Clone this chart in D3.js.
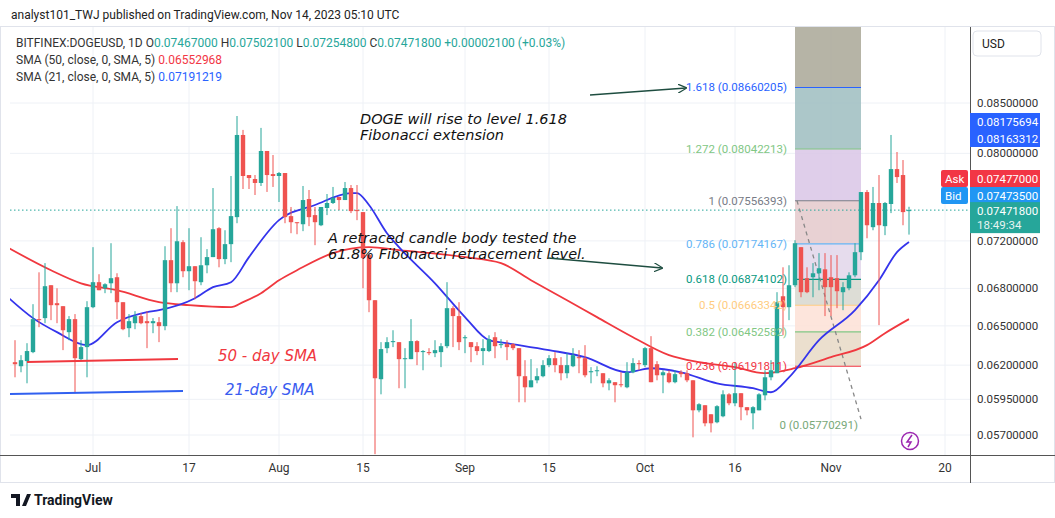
<!DOCTYPE html>
<html lang="en">
<head>
<meta charset="UTF-8">
<title>DOGEUSD 1D</title>
<style>
  body { margin: 0; background: #fff; font-family: 'Roboto', 'Liberation Sans', sans-serif; }
  svg text { font-family: 'Roboto', 'Liberation Sans', sans-serif; }
  .note { font-family: 'DejaVu Sans', sans-serif; font-style: italic; }
</style>
<script src="https://d3js.org/d3.v7.min.js"></script>
</head>
<body>
<svg id="chart" width="1055" height="518"></svg>
<script>
// daily candles from 2023-06-18
const startDay = "2023-06-18";
const opens = [.06222,.06192,.06230,.06298,.06553,.06561,.06826,.06680,.06656,.06451,.06553,.06245,.06336,.06648,.06851,.06801,.06842,.06892,.06688,.06482,
  .06521,.06577,.06537,.06521,.06529,.06498,.07035,.06842,.07189,.06942,.06984,.06851,.06992,.07061,.07311,.07044,.07172,.07409,.08179,.07794,
  .07757,.07720,.08023,.07803,.07785,.07813,.07418,.07364,.07346,.07572,.07427,.07337,.07491,.07536,.07591,.07563,.07673,.07472,.07454,.07078,
  .06704,.06096,.06328,.06374,.06374,.06245,.06245,.06382,.06298,.06298,.06290,.06298,.06343,.06640,.06577,.06404,.06374,.06343,.06306,.06306,
  .06412,.06351,.06359,.06359,.06328,.06118,.06037,.06088,.06118,.06200,.06252,.06200,.06140,.06192,.06260,.06252,.06147,.06155,.06140,.06066,
  .06074,.06059,.06037,.06147,.06215,.06200,.06328,.06207,.06125,.06140,.06074,.06147,.06140,.06088,.05872,.05908,.05844,.05788,.05830,.05986,
  .05922,.05994,.05894,.05851,.05872,.05979,.06110,.06140,.06736,.06648,.06826,.07146,.06884,.06892,.06925,.06958,.06892,.06884,.06769,.06801,
  .06908,.07103,.07636,.07320,.07536,.07329,.07527,.07850,.07794,.07467];
const highs = [.06389,.06275,.06366,.06672,.06933,.07010,.06826,.06801,.06656,.06577,.06593,.06389,.06696,.07146,.06917,.06842,.07180,.06925,.06688,.06593,
  .06616,.06600,.06616,.06561,.06569,.07154,.07311,.07508,.07206,.07311,.06984,.07232,.07129,.07673,.07320,.07293,.07785,.08368,.08229,.07794,
  .07794,.08249,.08023,.07984,.07822,.07813,.07500,.07364,.07692,.07655,.07500,.07500,.07618,.07683,.07591,.07729,.07701,.07701,.07454,.07078,
  .06704,.06374,.06412,.06466,.06374,.06328,.06553,.06389,.06313,.06328,.06389,.06366,.06851,.06656,.06688,.06427,.06374,.06374,.06397,.06427,
  .06451,.06397,.06389,.06366,.06328,.06237,.06245,.06177,.06237,.06275,.06298,.06260,.06290,.06328,.06313,.06351,.06185,.06192,.06140,.06103,
  .06074,.06147,.06222,.06252,.06237,.06336,.06420,.06230,.06162,.06162,.06162,.06162,.06162,.06088,.05922,.05908,.05844,.05908,.06015,.05994,
  .06222,.05994,.05894,.05901,.05994,.06162,.06237,.06769,.06975,.06992,.07206,.07146,.06975,.07010,.07095,.07095,.07078,.07078,.06851,.06933,
  .07180,.07636,.07655,.07683,.07794,.07545,.08179,.08013,.07936,.07502];
const lows = [.06110,.06147,.06066,.06290,.06490,.06521,.06545,.06521,.06313,.06389,.05994,.06230,.06110,.06640,.06785,.06761,.06761,.06553,.06466,.06412,
  .06474,.06513,.06328,.06443,.06374,.06466,.06769,.06769,.06892,.06785,.06712,.06826,.06925,.07061,.06975,.07001,.07018,.07355,.07664,.07664,
  .07609,.07692,.07637,.07683,.07545,.07355,.07267,.07258,.07285,.07329,.07163,.07329,.07427,.07527,.07472,.07563,.07445,.07382,.06801,.06608,
  .05570,.05986,.06290,.06336,.06030,.06030,.06245,.06200,.06162,.06275,.06260,.06185,.06328,.06336,.06313,.06290,.06222,.06275,.06200,.06298,
  .06252,.06328,.06237,.06313,.05929,.05929,.06037,.06066,.06110,.06185,.06147,.06088,.06103,.06185,.06140,.06110,.06066,.06118,.06037,.06015,
  .05929,.06037,.06030,.06140,.06162,.06185,.06074,.06088,.05994,.06066,.06066,.06110,.06074,.05684,.05858,.05760,.05718,.05781,.05823,.05908,
  .05901,.05802,.05837,.05739,.05872,.05943,.06088,.06140,.06427,.06545,.06810,.06728,.06761,.06728,.06785,.06577,.06577,.06640,.06624,.06785,
  .06892,.07035,.07223,.07293,.06506,.07250,.07445,.07720,.07337,.072548];
const closes = [.06207,.06237,.06306,.06553,.06545,.06818,.06664,.06664,.06466,.06553,.06252,.06336,.06648,.06851,.06785,.06834,.06884,.06688,.06474,.06537,
  .06577,.06521,.06521,.06537,.06498,.07035,.06842,.07197,.06942,.06984,.06859,.06992,.07061,.07302,.07044,.07172,.07418,.08179,.07785,.07766,
  .07720,.08023,.07794,.07785,.07813,.07409,.07364,.07355,.07563,.07409,.07364,.07500,.07536,.07582,.07563,.07673,.07463,.07463,.07052,.06704,
  .06103,.06321,.06374,.06382,.06245,.06252,.06382,.06298,.06306,.06290,.06313,.06343,.06640,.06577,.06374,.06412,.06336,.06306,.06328,.06397,
  .06343,.06359,.06336,.06328,.06118,.06037,.06088,.06118,.06200,.06252,.06200,.06140,.06200,.06275,.06252,.06125,.06155,.06162,.06066,.06088,
  .06052,.06052,.06147,.06215,.06207,.06328,.06074,.06125,.06147,.06074,.06133,.06133,.06088,.05872,.05915,.05781,.05781,.05901,.05986,.05922,
  .05994,.05894,.05872,.05894,.05986,.06110,.06162,.06688,.06648,.06826,.07180,.06769,.06769,.06925,.06967,.06810,.06810,.06777,.06810,.06908,
  .07103,.07636,.07337,.07536,.07337,.07536,.07850,.07775,.07454,.074718];

const sma50 = [["2023-06-17",.07137],["2023-06-24",.06950],["2023-06-29",.06842],["2023-07-05",.06785],["2023-07-12",.06688],["2023-07-17",.06664],
  ["2023-07-24",.06648],["2023-07-26",.06688],["2023-07-29",.06761],["2023-08-01",.06867],["2023-08-04",.06950],["2023-08-10",.07095],["2023-08-16",.07146],
  ["2023-08-21",.07120],["2023-09-01",.07061],["2023-09-07",.07010],["2023-09-12",.06867],["2023-09-18",.06704],["2023-09-23",.06569],["2023-09-29",.06412],
  ["2023-10-05",.06275],["2023-10-10",.06222],["2023-10-16",.06185],["2023-10-21",.06140],["2023-10-26",.06177],["2023-11-01",.06260],["2023-11-07",.06351],
  ["2023-11-10",.06443],["2023-11-14",.06553]];
const sma21 = [["2023-06-17",.06720],["2023-06-21",.06561],["2023-06-25",.06451],["2023-06-30",.06351],["2023-07-05",.06529],["2023-07-10",.06608],
  ["2023-07-12",.06624],["2023-07-18",.06720],["2023-07-21",.06810],["2023-07-24",.06851],["2023-07-27",.07061],["2023-08-01",.07382],["2023-08-07",.07518],
  ["2023-08-13",.07627],["2023-08-14",.07627],["2023-08-16",.07518],["2023-08-19",.07267],["2023-08-21",.07146],["2023-08-27",.06842],["2023-09-01",.06569],
  ["2023-09-05",.06389],["2023-09-08",.06366],["2023-09-15",.06313],["2023-09-21",.06260],["2023-09-28",.06147],["2023-10-02",.06177],["2023-10-07",.06147],
  ["2023-10-13",.06066],["2023-10-19",.06030],["2023-10-22",.06001],["2023-10-25",.06110],["2023-10-30",.06389],["2023-11-05",.06624],["2023-11-09",.06867],
  ["2023-11-12",.07103],["2023-11-14",.07191]];

const fibLevels = [1.618, 1.272, 1, 0.786, 0.618, 0.5, 0.382, 0.236, 0];
const fibPrices = [0.08660205, 0.08042213, 0.07556393, 0.07174167, 0.06874102, 0.06663342, 0.06452582, 0.06191811, 0.05770291];
const fibColors = ["#2962ff", "#81c784", "#787b86", "#64b5f6", "#089981", "#ffcc80", "#81c784", "#f23645", "#78a878"];
const fibFills = ["#a9a796", "#9ebdbf", "#d9c6e6", "#e4c9cb", "#e2d6ea", "#d7d7cf", "#fde0d6", "#e8d9c6"];
const fibStart = "2023-10-26", fibEnd = "2023-11-06";

const priceTicks = [0.085, 0.08, 0.072, 0.068, 0.065, 0.062, 0.0595, 0.057];
const timeTicks = [["2023-07-01","Jul"],["2023-07-17","17"],["2023-08-01","Aug"],["2023-08-15","15"],["2023-09-01","Sep"],
  ["2023-09-15","15"],["2023-10-01","Oct"],["2023-10-16","16"],["2023-11-01","Nov"],["2023-11-20","20"]];
const badgePrices = [0.08175694, 0.08163312, 0.07477, 0.074735];
const lastPrice = closes[closes.length - 1];

const up = "#26a69a", down = "#ef5350";
const svg = d3.select("#chart");
const W = 970, plotTop = 27, plotBottom = 455;
const parse = d3.utcParse("%Y-%m-%d");
const x = d3.scaleUtc().domain([parse("2023-06-18"), parse("2023-11-20")]).range([15, 945]);
const y = d3.scaleLog().domain([0.057, 0.085]).range([435, 103]);

const candles = closes.map((c, i) => ({
  date: d3.utcDay.offset(parse(startDay), i), o: opens[i], h: highs[i], l: lows[i], c: c
}));

const defs = svg.append("defs");
defs.append("clipPath").attr("id", "plot").append("rect").attr("x", 10).attr("y", plotTop).attr("width", W - 10).attr("height", plotBottom - plotTop);
const marker = defs.append("marker").attr("id", "arrow").attr("viewBox", "0 0 10 10").attr("refX", 9).attr("refY", 5)
  .attr("markerWidth", 9).attr("markerHeight", 9).attr("markerUnits", "userSpaceOnUse").attr("orient", "auto");
marker.append("path").attr("d", "M0,0 L10,5 L0,10").attr("fill", "none").attr("stroke", "#1e4d40").attr("stroke-width", 1.4);

// header
svg.append("text").attr("x", 11).attr("y", 19).attr("font-size", 12).attr("fill", "#222")
  .text("analyst101_TWJ published on TradingView.com, Nov 14, 2023 05:10 UTC");
svg.append("rect").attr("x", 0.5).attr("y", 26.5).attr("width", 1054).attr("height", 456).attr("fill", "none").attr("stroke", "#e0e3eb");

// grid
const g = svg.append("g");
g.selectAll(".hg").data(priceTicks).join("line").attr("x1", 10).attr("x2", W).attr("y1", d => y(d)).attr("y2", d => y(d)).attr("stroke", "#eef1f6");
g.selectAll(".vg").data(timeTicks).join("line").attr("x1", d => x(parse(d[0]))).attr("x2", d => x(parse(d[0])))
  .attr("y1", plotTop).attr("y2", plotBottom).attr("stroke", "#eef1f6");

const plot = svg.append("g").attr("clip-path", "url(#plot)");

// fibonacci boxes
const fx0 = x(parse(fibStart)), fx1 = x(parse(fibEnd));
const bandTops = [0.1, ...fibPrices.slice(0, 7)];
plot.selectAll(".fb").data(fibFills).join("rect")
  .attr("x", fx0).attr("width", fx1 - fx0)
  .attr("y", (d, i) => y(bandTops[i])).attr("height", (d, i) => y(fibPrices[i]) - y(bandTops[i]))
  .attr("fill", d => d).attr("opacity", 0.85);
plot.selectAll(".fl").data(fibPrices.slice(0, 8)).join("line")
  .attr("x1", fx0).attr("x2", fx1).attr("y1", d => y(d)).attr("y2", d => y(d))
  .attr("stroke", (d, i) => fibColors[i]).attr("stroke-width", 1.2);
plot.append("line").attr("x1", fx0 + 2).attr("y1", y(fibPrices[2])).attr("x2", fx1).attr("y2", y(0.0581))
  .attr("stroke", "#888").attr("stroke-width", 1.3).attr("stroke-dasharray", "4,4");
svg.selectAll(".flab").data(fibLevels).join("text")
  .attr("x", (d, i) => i === 8 ? fx1 - 3 : fx0 - 8).attr("y", (d, i) => y(fibPrices[i]) + 4)
  .attr("text-anchor", "end").attr("font-size", 11.5).attr("fill", (d, i) => fibColors[i])
  .text((d, i) => d + " (" + fibPrices[i].toFixed(8) + ")");

// current price line
plot.append("line").attr("x1", 10).attr("x2", W).attr("y1", y(lastPrice)).attr("y2", y(lastPrice))
  .attr("stroke", up).attr("stroke-dasharray", "1.5,2.5");

// SMAs
const line = d3.line().x(d => x(parse(d[0]))).y(d => y(d[1])).curve(d3.curveMonotoneX);
plot.append("path").attr("d", line(sma50)).attr("fill", "none").attr("stroke", "#f0383f").attr("stroke-width", 1.8);
plot.append("path").attr("d", line(sma21)).attr("fill", "none").attr("stroke", "#3434ec").attr("stroke-width", 1.8);

// candles
const cg = plot.selectAll(".c").data(candles).join("g");
cg.append("line").attr("x1", d => x(d.date)).attr("x2", d => x(d.date)).attr("y1", d => y(d.h)).attr("y2", d => y(d.l))
  .attr("stroke", d => d.c >= d.o ? up : down);
cg.append("rect").attr("x", d => x(d.date) - 2.2).attr("width", 4.4)
  .attr("y", d => y(Math.max(d.o, d.c))).attr("height", d => Math.max(1, Math.abs(y(d.o) - y(d.c))))
  .attr("fill", d => d.c >= d.o ? up : down);

// hand-drawn notes
svg.append("line").attr("x1", 27).attr("y1", 362).attr("x2", 178).attr("y2", 359).attr("stroke", "#f0383f").attr("stroke-width", 2);
svg.append("line").attr("x1", 10).attr("y1", 394).attr("x2", 183).attr("y2", 391).attr("stroke", "#3060f0").attr("stroke-width", 2);
svg.append("text").attr("class", "note").attr("x", 218).attr("y", 361).attr("font-size", 15).attr("fill", "#f0383f").text("50 - day SMA");
svg.append("text").attr("class", "note").attr("x", 225).attr("y", 395).attr("font-size", 15).attr("fill", "#3a5cf0").text("21-day SMA");
const notes = [["DOGE will rise to level 1.618", 360, 124], ["Fibonacci extension", 360, 140],
  ["A retraced candle body tested the", 328, 243], ["61.8% Fibonacci retracement level.", 328, 259]];
svg.selectAll(".nt").data(notes).join("text").attr("class", "note").attr("x", d => d[1]).attr("y", d => d[2])
  .attr("font-size", 14.5).attr("fill", "#111").text(d => d[0]);
svg.append("path").attr("d", "M590,95 L686,88").attr("fill", "none").attr("stroke", "#1e4d40").attr("stroke-width", 1.6).attr("marker-end", "url(#arrow)");
svg.append("path").attr("d", "M548,258 L662,268").attr("fill", "none").attr("stroke", "#1e4d40").attr("stroke-width", 1.6).attr("marker-end", "url(#arrow)");

// legend
const leg = svg.append("g").attr("font-size", 12);
const l1 = leg.append("text").attr("x", 16).attr("y", 47).attr("fill", "#333");
l1.append("tspan").text("BITFINEX:DOGEUSD, 1D  O");
l1.append("tspan").attr("fill", up).text("0.07467000");
l1.append("tspan").text("  H");
l1.append("tspan").attr("fill", up).text("0.07502100");
l1.append("tspan").text("  L");
l1.append("tspan").attr("fill", up).text("0.07254800");
l1.append("tspan").text("  C");
l1.append("tspan").attr("fill", up).text("0.07471800  +0.00002100 (+0.03%)");
const l2 = leg.append("text").attr("x", 16).attr("y", 64).attr("fill", "#333");
l2.append("tspan").text("SMA (50, close, 0, SMA, 5)  ");
l2.append("tspan").attr("fill", "#f23645").text("0.06552968");
const l3 = leg.append("text").attr("x", 16).attr("y", 81).attr("fill", "#333");
l3.append("tspan").text("SMA (21, close, 0, SMA, 5)  ");
l3.append("tspan").attr("fill", "#2962ff").text("0.07191219");

// axes
svg.append("line").attr("x1", W + 0.5).attr("x2", W + 0.5).attr("y1", plotTop).attr("y2", 483).attr("stroke", "#555");
svg.append("line").attr("x1", 0).attr("x2", 1055).attr("y1", plotBottom + 0.5).attr("y2", plotBottom + 0.5).attr("stroke", "#555");
svg.selectAll(".pt").data(priceTicks).join("text").attr("x", 977).attr("y", d => y(d) + 4).attr("font-size", 11.5)
  .attr("fill", "#333").text(d => d.toFixed(8));
svg.selectAll(".tt").data(timeTicks).join("text").attr("x", d => x(parse(d[0]))).attr("y", 472)
  .attr("text-anchor", "middle").attr("font-size", 12).attr("fill", "#333").text(d => d[1]);
svg.append("rect").attr("x", 973).attr("y", 31).attr("width", 68).attr("height", 25).attr("rx", 4).attr("fill", "#fff").attr("stroke", "#e0e3eb");
svg.append("text").attr("x", 982).attr("y", 48).attr("font-size", 12).attr("fill", "#222").text("USD");

const badgeColors = ["#2962ff", "#2962ff", "#f23645", "#2196f3"];
const badgeY = [121, 138, 178, 195];
badgePrices.forEach((p, i) => {
  svg.append("rect").attr("x", W).attr("y", badgeY[i] - 8).attr("width", 70).attr("height", 17).attr("fill", badgeColors[i]);
  svg.append("text").attr("x", 977).attr("y", badgeY[i] + 4.5).attr("font-size", 11.5).attr("fill", "#fff").text(p.toFixed(8));
});
[["Ask", "#f23645", 178], ["Bid", "#2196f3", 195]].forEach(b => {
  svg.append("rect").attr("x", 941).attr("y", b[2] - 8).attr("width", 27).attr("height", 17).attr("rx", 2).attr("fill", b[1]);
  svg.append("text").attr("x", 945).attr("y", b[2] + 4.5).attr("font-size", 11.5).attr("fill", "#fff").text(b[0]);
});
const cy = y(lastPrice);
svg.append("rect").attr("x", W).attr("y", cy - 8).attr("width", 70).attr("height", 31).attr("fill", up);
svg.append("text").attr("x", 977).attr("y", cy + 4.5).attr("font-size", 11.5).attr("fill", "#fff").text(lastPrice.toFixed(8));
svg.append("text").attr("x", 977).attr("y", cy + 19).attr("font-size", 11.5).attr("fill", "#e6f4f1").text("18:49:34");

// lightning icon
svg.append("circle").attr("cx", 910).attr("cy", 441).attr("r", 8.5).attr("fill", "none").attr("stroke", "#9c27b0").attr("stroke-width", 1.5);
svg.append("path").attr("d", "M912,435 L907,442 L911,442 L908,447").attr("fill", "none").attr("stroke", "#9c27b0").attr("stroke-width", 1.5);

// footer logo
svg.append("path").attr("d", "M11,494 h9 v12 h-4 v-8 h-5z M22,506 l5,-12 h4 l-5,12z").attr("fill", "#131722");
svg.append("text").attr("x", 34).attr("y", 505).attr("font-size", 14).attr("font-weight", "bold").attr("fill", "#131722").text("TradingView");
</script>
</body>
</html>
